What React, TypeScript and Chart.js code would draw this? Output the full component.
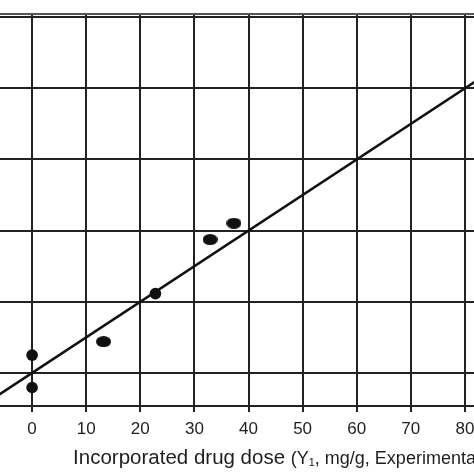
import { useEffect, useRef } from "react";
import { Chart, registerables } from "chart.js";

Chart.register(...registerables);

// Experimental (x) vs predicted (y) drug dose, mg/g
const expX = [0, 0, 13.2, 22.8, 32.9, 37.3];
const predY = [5.0, -4.1, 8.8, 22.3, 37.5, 42.1];
const pointShape = ["circle", "circle", "ellipse", "circle", "ellipse", "ellipse"];

// fitted line y = x
const fitX = [-10, 90];
const fitY = [-10, 90];

const xTicks = [0, 10, 20, 30, 40, 50, 60, 70, 80];
const yTicks = [0, 20, 40, 60, 80, 100];
const xMin = -10;
const xMax = 90;
const yMin = -9.3;
const yMax = 100.9;

const titleMain = "Incorporated drug dose";
const titleSub = "(Y\u2081, mg/g, Experimental)";

const FONT = '"Liberation Sans", Arial, Helvetica, sans-serif';
const INK = "#1e1e1e";

function ellipseImg(w: number, h: number) {
  const c = document.createElement("canvas");
  c.width = w;
  c.height = h;
  const g = c.getContext("2d")!;
  g.fillStyle = "#111";
  g.beginPath();
  g.ellipse(w / 2, h / 2, w / 2, h / 2, 0, 0, Math.PI * 2);
  g.fill();
  return c;
}

export default function App() {
  const ref = useRef<HTMLCanvasElement | null>(null);

  useEffect(() => {
    if (!ref.current) return;
    const ell = ellipseImg(15, 11);

    const topBorder = {
      id: "topBorder",
      afterDraw(chart: any) {
        const { ctx, chartArea } = chart;
        ctx.save();
        ctx.strokeStyle = "#555";
        ctx.lineWidth = 2;
        ctx.beginPath();
        ctx.moveTo(chartArea.left, chartArea.top);
        ctx.lineTo(chartArea.right, chartArea.top);
        ctx.stroke();
        ctx.restore();
      },
    };

    const mixedTitle = {
      id: "mixedTitle",
      afterDraw(chart: any) {
        const { ctx, chartArea } = chart;
        const x = chart.scales.x.getPixelForValue(0) + 41;
        const y = chartArea.bottom + 57.5;
        ctx.save();
        ctx.fillStyle = INK;
        ctx.textBaseline = "alphabetic";
        ctx.textAlign = "left";
        ctx.font = `20.5px ${FONT}`;
        const main = titleMain + " ";
        ctx.fillText(main, x, y);
        const w = ctx.measureText(main).width;
        ctx.font = `18px ${FONT}`;
        ctx.fillText(titleSub, x + w, y);
        ctx.restore();
      },
    };

    const chart = new Chart(ref.current, {
      type: "scatter",
      data: {
        datasets: [
          {
            label: "fit",
            data: fitX.map((x, i) => ({ x, y: fitY[i] })),
            showLine: true,
            borderColor: "#111",
            borderWidth: 2.6,
            pointRadius: 0,
            fill: false,
            order: 2,
          },
          {
            label: "samples",
            data: expX.map((x, i) => ({ x, y: predY[i] })),
            backgroundColor: "#111",
            borderWidth: 0,
            pointRadius: 5.8,
            pointStyle: pointShape.map((s) => (s === "ellipse" ? ell : "circle")) as any,
            order: 1,
          },
        ],
      },
      options: {
        animation: false,
        responsive: false,
        events: [],
        layout: { autoPadding: false, padding: { top: 14, left: 0, right: 0, bottom: 0 } },
        plugins: {
          legend: { display: false },
          tooltip: { enabled: false },
          title: { display: false },
        },
        scales: {
          x: {
            type: "linear",
            min: xMin,
            max: xMax,
            afterBuildTicks: (s: any) => {
              s.ticks = xTicks.map((v) => ({ value: v }));
            },
            afterFit: (s: any) => {
              s.height = 68;
            },
            grid: { color: "#222", lineWidth: 2, tickLength: 6, drawTicks: true },
            border: { display: true, color: "#222", width: 2 },
            ticks: {
              color: INK,
              font: { family: FONT, size: 17 },
              padding: 7,
              maxRotation: 0,
              autoSkip: false,
            },
          },
          y: {
            type: "linear",
            min: yMin,
            max: yMax,
            afterBuildTicks: (s: any) => {
              s.ticks = yTicks.map((v) => ({ value: v }));
            },
            afterFit: (s: any) => {
              s.width = 0;
            },
            grid: { color: "#222", lineWidth: 2, drawTicks: false },
            border: { display: false },
            ticks: { display: false },
          },
        },
      },
      plugins: [topBorder, mixedTitle],
    } as any);

    return () => chart.destroy();
  }, []);

  return (
    <div
      style={{
        position: "fixed",
        left: 0,
        top: 0,
        width: 474,
        height: 474,
        overflow: "hidden",
        background: "#fff",
      }}
    >
      <canvas
        ref={ref}
        width={541}
        height={474}
        style={{ position: "absolute", left: -22, top: 0, width: 541, height: 474, display: "block" }}
      />
    </div>
  );
}
